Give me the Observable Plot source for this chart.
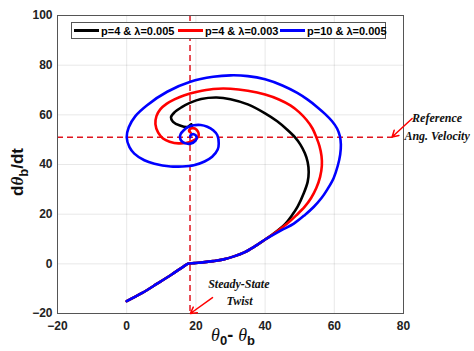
<!DOCTYPE html>
<html><head><meta charset="utf-8">
<script src="https://cdn.jsdelivr.net/npm/d3@7"></script>
<script src="https://cdn.jsdelivr.net/npm/@observablehq/plot@0.6"></script>
<style>
body{margin:0;background:#fff;}
#wrap{position:relative;width:474px;height:351px;overflow:hidden;}
#legend{position:absolute;left:71px;top:22px;width:313px;height:15px;border:1px solid #555;background:#fff;font:bold 11px "Liberation Sans",Arial,sans-serif;color:#000;}
#legend .it{position:absolute;top:0;height:15px;display:flex;align-items:center;white-space:nowrap;}
#legend .sw{display:inline-block;width:25px;height:3px;margin-right:2px;}
</style>
</head><body>
<div id="wrap"><div id="legend"></div></div>
<script>
// shared start of every trajectory
const rise = [[0,-15],[4.5,-11.7],[8.8,-8],[13,-4.3],[16.5,-1],[17.7,0],[19.5,0.3],[22,0.6],[25,1.1],[28,1.8],[31,3],[34,4.6],[37,7],[39.9,9.7]];
const black = rise.concat([[42.5,12.2],[45.9,16.2],[47.8,19.6],[49.4,23],[51.2,28.5],[52.3,33],[52.6,37],[52.3,41],[51.5,44.5],[50.2,48],[48.6,51],[46.4,54],[43.5,57.4],[40,60.6],[35,64.2],[30,66.3],[26,67],[21.5,66.4],[18.4,64.9],[15.8,63],[13.8,61],[12.8,59],[13.4,57.2],[15.4,55.7],[17.6,55.1],[18.7,56.2],[18.8,55.3]]);
const red = rise.concat([[42.8,12.4],[46.4,16.2],[49,19.5],[51.4,22.9],[53.3,26.5],[54.8,30.5],[55.9,35],[56.4,39.5],[56.3,43.5],[55.7,47.5],[54.8,51],[53.7,54.5],[52,57.9],[49.9,61],[47.3,63.8],[44,66.2],[40,68.2],[35,69.7],[30,70.5],[25,70.4],[20.4,69.3],[16.5,67.8],[13.8,66.2],[11.5,64.4],[9.7,62.2],[8.6,59.5],[8.3,56.3],[9.1,52.8],[10.5,50.5],[12.4,49.2],[15,48.5],[18.4,49.1],[20.8,51.6],[20.2,54],[18.8,54.6],[18,53.6],[18.5,52.8]]);
const blue = rise.concat([[44.5,13.4],[48.3,16.2],[51.5,19.7],[54.1,23],[56.3,26.5],[58,30],[59.8,34.5],[61,39.5],[61.7,44],[61.9,48],[61.6,51.5],[60.8,54.5],[59.3,57.5],[57.3,60.4],[55,63.2],[52.3,66.1],[49.3,68.8],[45,71.8],[40,74.3],[35,75.6],[30,75.9],[25,75.3],[18.4,73.3],[11.7,69.3],[5.9,63.9],[2.5,59.5],[0.6,55],[0,51],[0.8,47],[2.2,44.4],[5.1,41.7],[8,40.3],[12.7,39.2],[16,39.2],[19.4,39.7],[22.5,41.2],[24.7,43.1],[26.3,46],[26.6,48.5],[26.2,51.8],[25,53.8],[23.3,55.2],[21.4,55.9],[19.4,55.8],[17.6,55],[16.5,53.8],[15.6,52.3],[15.4,50.9],[15.8,49.5],[16.8,48.6],[18.4,48.4],[19.9,49.6],[20.2,51.1],[19.4,52.2],[18.5,51.8],[18.4,51]]);
const seriesNames = ["p=4 & \u03bb=0.005","p=4 & \u03bb=0.003","p=10 & \u03bb=0.005"];
const seriesColors = ["#000000","#ff0000","#0000ff"];
const xTicks = [-20,0,20,40,60,80];
const yTicks = [-20,0,20,40,60,80,100];
const refTwist = 18.3;      // steady-state twist
const refVel = 51;          // reference angular velocity
const refVelEnd = 77;       // where the dashed reference line stops
const arrows = [
  {x1:82.5,y1:58.5,x2:76.7,y2:51.1},
  {x1:24.8,y1:-13.6,x2:18.4,y2:-20}
];
const notes = [
  {x:89.7,y:58.6,t:"Reference"},
  {x:89.7,y:51.6,t:"Ang. Velocity"},
  {x:32.4,y:-8.3,t:"Steady-State"},
  {x:32.6,y:-15.2,t:"Twist"}
];

const table = [];
[black,red,blue].forEach((arr,i)=>arr.forEach(([x,y])=>table.push({x,y,s:seriesNames[i]})));

const chart = Plot.plot({
  width:474, height:351,
  marginLeft:57, marginRight:71, marginTop:15, marginBottom:38,
  style:{fontFamily:"'Liberation Sans', Arial, sans-serif", fontSize:"12px", fontWeight:"bold", color:"#222", background:"#fff"},
  x:{domain:[-20,80], ticks:xTicks, grid:true, label:null, tickSize:0, tickPadding:8},
  y:{domain:[-20,100], ticks:yTicks, grid:true, label:null, tickSize:0, tickPadding:5},
  color:{domain:seriesNames, range:seriesColors},
  marks:[
    Plot.ruleX([refTwist],{stroke:"#e0141e",strokeWidth:1.5,strokeDasharray:"6,4"}),
    Plot.ruleY([refVel],{x1:-20,x2:refVelEnd,stroke:"#e0141e",strokeWidth:1.5,strokeDasharray:"6,4"}),
    Plot.line(table,{x:"x",y:"y",z:"s",stroke:"s",strokeWidth:2.6,curve:"catmull-rom"}),
    Plot.frame({stroke:"#555"}),
    Plot.arrow(arrows,{x1:"x1",y1:"y1",x2:"x2",y2:"y2",stroke:"#ff0000",strokeWidth:1.5,headLength:7,bend:0}),
    Plot.text(notes,{x:"x",y:"y",text:"t",fontFamily:"'Liberation Serif', 'Times New Roman', serif",fontStyle:"italic",fontWeight:"bold",fontSize:12,fill:"#111"})
  ]
});
document.getElementById("wrap").prepend(chart);
chart.style.position="absolute"; chart.style.left="0"; chart.style.top="0";

const svg = d3.select(chart);
// y label
const yl = svg.append("text").attr("transform","translate(23,172) rotate(-90)").attr("text-anchor","middle")
  .attr("font-size",17).attr("font-weight","bold").attr("fill","#111");
yl.append("tspan").text("d");
yl.append("tspan").attr("font-family","'Liberation Serif',serif").attr("font-style","italic").text("\u03b8");
yl.append("tspan").attr("font-size",13).attr("dy",5).text("b");
yl.append("tspan").attr("dy",-5).text("/dt");
// x label
const xl = svg.append("text").attr("x",233).attr("y",341).attr("text-anchor","middle")
  .attr("font-size",18).attr("font-weight","bold").attr("fill","#111");
xl.append("tspan").attr("font-family","'Liberation Serif',serif").attr("font-style","italic").attr("font-weight","normal").text("\u03b8");
xl.append("tspan").attr("font-size",13).attr("dy",4).text("0");
xl.append("tspan").attr("dy",-4).text("- ");
xl.append("tspan").attr("font-family","'Liberation Serif',serif").attr("font-style","italic").attr("font-weight","normal").text("\u03b8");
xl.append("tspan").attr("font-size",13).attr("dy",4).text("b");

// legend
const lg = document.getElementById("legend");
const lefts = [2,106,208];
seriesNames.forEach((n,i)=>{
  const it = document.createElement("div"); it.className="it"; it.style.left=lefts[i]+"px";
  const sw = document.createElement("span"); sw.className="sw"; sw.style.background=seriesColors[i];
  it.appendChild(sw); it.appendChild(document.createTextNode(n)); lg.appendChild(it);
});
</script>
</body></html>
